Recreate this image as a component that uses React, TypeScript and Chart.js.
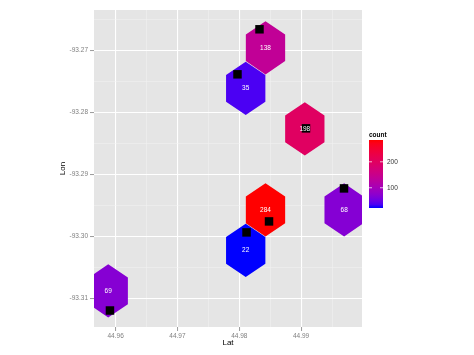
import React, { useEffect, useRef } from 'react';
import { Chart, registerables } from 'chart.js';

Chart.register(...registerables);

// ---- data ----
const hexLat = [44.9588, 44.98104, 44.98424, 44.98424, 44.98104, 44.9906, 44.99696];
const hexLon = [-93.30878, -93.30225, -93.29572, -93.2696, -93.27613, -93.28266, -93.29572];
const hexCount = [69, 22, 284, 138, 35, 198, 68];

const pointLat = [44.98327, 44.97971, 44.99079, 44.98481, 44.98117, 44.99694, 44.95908];
const pointLon = [-93.26661, -93.27387, -93.28258, -93.29758, -93.29935, -93.29226, -93.31194];

const xTicks = [44.96, 44.97, 44.98, 44.99];
const xTickLabels = ['44.96', '44.97', '44.98', '44.99'];
const xMinorTicks = [44.965, 44.975, 44.985, 44.995];
const yTicks = [-93.31, -93.3, -93.29, -93.28, -93.27];
const yTickLabels = ['-93.31', '-93.30', '-93.29', '-93.28', '-93.27'];
const yMinorTicks = [-93.305, -93.295, -93.285, -93.275, -93.265];
const legendTicks = [100, 200];
const legendTickLabels = ['100', '200'];

const X_MIN = 44.9565;
const X_MAX = 44.99985;
const Y_MIN = -93.3146;
const Y_MAX = -93.2635;
// hexagon bin half sizes (data units)
const HEX_HALF_W = 0.00318;
const HEX_HALF_H = 0.00428;

const FONT = "'Liberation Sans', Arial, sans-serif";

// ---- colour scale (Lab interpolation blue -> red) ----
function toLin(c: number) {
  c /= 255;
  return c <= 0.04045 ? c / 12.92 : Math.pow((c + 0.055) / 1.055, 2.4);
}
function toGam(c: number) {
  c = Math.max(0, Math.min(1, c));
  const v = c <= 0.0031308 ? 12.92 * c : 1.055 * Math.pow(c, 1 / 2.4) - 0.055;
  return Math.round(v * 255);
}
function rgbToLab(r: number, g: number, b: number) {
  const R = toLin(r), G = toLin(g), B = toLin(b);
  const X = (0.4124 * R + 0.3576 * G + 0.1805 * B) / 0.95047;
  const Y = 0.2126 * R + 0.7152 * G + 0.0722 * B;
  const Z = (0.0193 * R + 0.1192 * G + 0.9505 * B) / 1.08883;
  const f = (t: number) => (t > 0.008856 ? Math.cbrt(t) : 7.787 * t + 16 / 116);
  const fx = f(X), fy = f(Y), fz = f(Z);
  return [116 * fy - 16, 500 * (fx - fy), 200 * (fy - fz)];
}
function labToRgb(L: number, a: number, b: number) {
  const fy = (L + 16) / 116;
  const fx = fy + a / 500;
  const fz = fy - b / 200;
  const fi = (t: number) => (t * t * t > 0.008856 ? t * t * t : (t - 16 / 116) / 7.787);
  const X = fi(fx) * 0.95047, Y = fi(fy), Z = fi(fz) * 1.08883;
  const R = 3.2406 * X - 1.5372 * Y - 0.4986 * Z;
  const G = -0.9689 * X + 1.8758 * Y + 0.0415 * Z;
  const B = 0.0557 * X - 0.204 * Y + 1.057 * Z;
  return `rgb(${toGam(R)},${toGam(G)},${toGam(B)})`;
}
const LAB_LOW = rgbToLab(0, 0, 255);
const LAB_HIGH = rgbToLab(255, 0, 0);
const C_MIN = Math.min(...hexCount);
const C_MAX = Math.max(...hexCount);
function colorFor(v: number) {
  const t = (v - C_MIN) / (C_MAX - C_MIN);
  return labToRgb(
    LAB_LOW[0] + (LAB_HIGH[0] - LAB_LOW[0]) * t,
    LAB_LOW[1] + (LAB_HIGH[1] - LAB_LOW[1]) * t,
    LAB_LOW[2] + (LAB_HIGH[2] - LAB_LOW[2]) * t
  );
}

function hexVertices(cx: number, cy: number) {
  return [
    { x: cx, y: cy + HEX_HALF_H },
    { x: cx + HEX_HALF_W, y: cy + HEX_HALF_H / 2 },
    { x: cx + HEX_HALF_W, y: cy - HEX_HALF_H / 2 },
    { x: cx, y: cy - HEX_HALF_H },
    { x: cx - HEX_HALF_W, y: cy - HEX_HALF_H / 2 },
    { x: cx - HEX_HALF_W, y: cy + HEX_HALF_H / 2 },
    { x: cx, y: cy + HEX_HALF_H },
  ];
}

const near = (a: number, b: number) => Math.abs(a - b) < 1e-7;

const panelBg = {
  id: 'panelBg',
  beforeDraw(chart: any) {
    const { ctx, chartArea: a } = chart;
    ctx.save();
    ctx.fillStyle = '#E5E5E5';
    ctx.fillRect(a.left, a.top, a.right - a.left, a.bottom - a.top);
    ctx.restore();
  },
};

const hexLabels = {
  id: 'hexLabels',
  afterDatasetsDraw(chart: any) {
    const { ctx } = chart;
    const xs = chart.scales.x, ys = chart.scales.y;
    ctx.save();
    ctx.fillStyle = '#FFFFFF';
    ctx.font = `6.5px ${FONT}`;
    ctx.textAlign = 'center';
    ctx.textBaseline = 'middle';
    hexCount.forEach((c, i) => {
      ctx.fillText(String(c), xs.getPixelForValue(hexLat[i]), ys.getPixelForValue(hexLon[i]));
    });
    ctx.restore();
  },
};

const colorBar = {
  id: 'colorBar',
  afterDraw(chart: any) {
    const { ctx } = chart;
    const bx = 369, by = 140, bw = 14, bh = 68;
    ctx.save();
    ctx.fillStyle = '#000';
    ctx.font = `bold 6.5px ${FONT}`;
    ctx.textAlign = 'left';
    ctx.textBaseline = 'middle';
    ctx.fillText('count', bx, by - 5);
    const grad = ctx.createLinearGradient(0, by + bh, 0, by);
    const n = 20;
    for (let i = 0; i <= n; i++) {
      grad.addColorStop(i / n, colorFor(C_MIN + ((C_MAX - C_MIN) * i) / n));
    }
    ctx.fillStyle = grad;
    ctx.fillRect(bx, by, bw, bh);
    ctx.font = `6.5px ${FONT}`;
    legendTicks.forEach((v, i) => {
      const y = by + bh - ((v - C_MIN) / (C_MAX - C_MIN)) * bh;
      ctx.strokeStyle = 'rgba(255,255,255,0.9)';
      ctx.lineWidth = 0.8;
      ctx.beginPath();
      ctx.moveTo(bx, y);
      ctx.lineTo(bx + 3, y);
      ctx.moveTo(bx + bw - 3, y);
      ctx.lineTo(bx + bw, y);
      ctx.stroke();
      ctx.fillStyle = '#333333';
      ctx.fillText(legendTickLabels[i], bx + bw + 4, y);
    });
    ctx.restore();
  },
};

function makeTicks(majors: number[], minors: number[]) {
  return [
    ...majors.map((v) => ({ value: v, major: true })),
    ...minors.map((v) => ({ value: v, major: false })),
  ].sort((a, b) => a.value - b.value);
}

export default function App() {
  const ref = useRef<HTMLCanvasElement>(null);
  useEffect(() => {
    if (!ref.current) return;
    const hexDatasets = hexCount.map((c, i) => ({
      data: hexVertices(hexLat[i], hexLon[i]),
      showLine: true,
      fill: 'shape',
      backgroundColor: colorFor(c),
      borderColor: colorFor(c),
      borderWidth: 0,
      pointRadius: 0,
      order: 2,
    }));
    const pointsDataset = {
      data: pointLat.map((x, i) => ({ x, y: pointLon[i] })),
      pointStyle: 'rect',
      pointRadius: 6,
      backgroundColor: '#000000',
      borderColor: '#000000',
      borderWidth: 0,
      showLine: false,
      order: 1,
    };
    const gridColor = (ctx: any) => (ctx.tick && ctx.tick.major ? '#FFFFFF' : '#F2F2F2');
    const gridWidth = (ctx: any) => (ctx.tick && ctx.tick.major ? 1.1 : 0.5);
    const tickColor = (ctx: any) => (ctx.tick && ctx.tick.major ? '#7F7F7F' : 'rgba(0,0,0,0)');
    const chart = new Chart(ref.current, {
      type: 'scatter',
      data: { datasets: [pointsDataset as any, ...(hexDatasets as any)] },
      plugins: [panelBg, hexLabels, colorBar],
      options: {
        animation: false,
        responsive: false,
        events: [],
        layout: { padding: { left: 0, top: 10, right: 112, bottom: 0 } },
        plugins: { legend: { display: false }, tooltip: { enabled: false } },
        scales: {
          x: {
            type: 'linear',
            min: X_MIN,
            max: X_MAX,
            border: { display: false },
            afterBuildTicks: (s: any) => {
              s.ticks = makeTicks(xTicks, xMinorTicks);
            },
            afterFit: (s: any) => {
              s.height = 28;
            },
            grid: { color: gridColor, lineWidth: gridWidth, tickColor, tickLength: 4, drawTicks: true, tickWidth: 0.8 },
            ticks: {
              autoSkip: false,
              maxRotation: 0,
              padding: 1,
              color: '#7F7F7F',
              font: { family: FONT, size: 6.5 },
              callback: (v: any) => {
                const i = xTicks.findIndex((t) => near(t, Number(v)));
                return i >= 0 ? xTickLabels[i] : '';
              },
            },
            title: {
              display: true,
              text: 'Lat',
              color: '#000000',
              font: { family: FONT, size: 8 },
              padding: { top: 0, bottom: 7 },
            },
          },
          y: {
            type: 'linear',
            min: Y_MIN,
            max: Y_MAX,
            border: { display: false },
            afterBuildTicks: (s: any) => {
              s.ticks = makeTicks(yTicks, yMinorTicks);
            },
            afterFit: (s: any) => {
              s.width = 94;
            },
            grid: { color: gridColor, lineWidth: gridWidth, tickColor, tickLength: 4, drawTicks: true, tickWidth: 0.8 },
            ticks: {
              autoSkip: false,
              padding: 2,
              color: '#7F7F7F',
              font: { family: FONT, size: 6.5 },
              callback: (v: any) => {
                const i = yTicks.findIndex((t) => near(t, Number(v)));
                return i >= 0 ? yTickLabels[i] : '';
              },
            },
            title: {
              display: true,
              text: 'Lon',
              color: '#000000',
              font: { family: FONT, size: 8 },
              padding: { top: 58, bottom: 0 },
            },
          },
        },
      } as any,
    });
    return () => chart.destroy();
  }, []);
  return (
    <div style={{ position: 'absolute', left: 0, top: 0, width: 474, height: 355, background: '#FFFFFF' }}>
      <canvas ref={ref} width={474} height={355} style={{ display: 'block' }} />
    </div>
  );
}
